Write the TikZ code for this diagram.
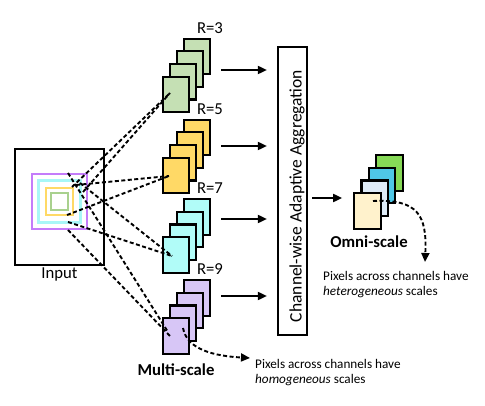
\documentclass[tikz,border=0pt]{standalone}
\usepackage{fontspec}
\setmainfont{Carlito}
\usepackage{tikz}
\usetikzlibrary{arrows.meta,positioning}
\definecolor{grn}{HTML}{C5E0B4}
\definecolor{ylw}{HTML}{FFD966}
\definecolor{cyn}{HTML}{B1FCF8}
\definecolor{prp}{HTML}{D7C6F6}
\definecolor{sqprp}{HTML}{C47CFA}
\definecolor{sqcyn}{HTML}{A8F7F7}
\definecolor{sqylw}{HTML}{FFD966}
\definecolor{sqgrn}{HTML}{A9D18E}
\definecolor{ocrm}{HTML}{FFF2CC}
\definecolor{oblu}{HTML}{DEEBF7}
\definecolor{ocyn}{HTML}{4FC7E7}
\definecolor{ogrn}{HTML}{86D957}

\begin{document}
\begin{tikzpicture}[x=1pt,y=-1pt,
	panel/.style={draw,line width=2.2pt,minimum width=26.5pt,minimum height=35.5pt,inner sep=0pt},
	arr/.style={line width=1.8pt,-{Triangle[length=9pt,width=8pt]}},
	dsh/.style={line width=1.9pt,dash pattern=on 4pt off 2.5pt},
	txt/.style={inner sep=0pt,font=\fontsize{16.7}{20}\selectfont},
	bld/.style={inner sep=0pt,font=\fontsize{16.7}{20}\selectfont\bfseries},
	note/.style={inner sep=0pt,align=left,font=\fontsize{13.2}{15.5}\selectfont}]
	\useasboundingbox (0,0) rectangle (485,406);

	\node[draw,line width=2.2pt,minimum width=89pt,minimum height=116pt] (inp) at (59.5,207) {};
	\node[txt,below=1.5pt of inp] (inplab) {Input};
	\foreach \s/\c in {27.5/sqprp,21/sqcyn,13.5/sqylw,8.5/sqgrn} \draw[\c,line width=2.3pt] (59.5-\s,201.5-\s) rectangle (59.5+\s,201.5+\s);

	\foreach \s/\c/\y/\rr in {g/grn/94.5/3,y/ylw/175.5/5,c/cyn/255/7,p/prp/336/9} {
		\foreach \k in {3,2,1,0} \node[panel,fill=\c] (\s\k) at (176+7*\k,\y-12.7*\k) {};
		\node[txt,anchor=base] (r\s) at ([xshift=13pt,yshift=4.5pt]\s3.north) {R=\rr};
	}

	\foreach \n/\a/\b in {ig1/72/187,ig2/83/192,iy1/76/185,iy2/67/215,ic1/80/183,ic2/68/222,ip1/68/173,ip2/68/230} \coordinate (\n) at (\a,\b);
	\foreach \n/\a/\b in {tg/170/93,ty/169/176,tc/172/256,tp1/168/332,tp2/170/336} \coordinate (\n) at (\a,\b);
	\foreach \a/\b in {ig1/tg,ig2/tg,iy1/ty,iy2/ty,ic1/tc,ic2/tc,ip1/tp1,ip2/tp2} \draw[dsh] (\a) -- (\b);

	\node[draw,line width=2.2pt,minimum width=29pt,minimum height=288pt] (agg) at (292.5,191) {};
	\node[rotate=90,inner sep=0pt,font=\fontsize{17.5}{20}\selectfont] (aggtxt) at (297,196) {Channel-wise Adaptive Aggregation};
	\foreach \s/\y in {g/70,y/146,c/219,p/296} \draw[arr] ([xshift=10pt]\s3.east |- 0,\y) -- ([xshift=-10pt]agg.west |- 0,\y);

	\foreach \k/\c in {3/ogrn,2/ocyn,1/oblu,0/ocrm} \node[panel,fill=\c] (o\k) at (367.5+7.3*\k,211-12.7*\k) {};
	\draw[arr] ([xshift=4pt]agg.east |- 0,198) -- ([xshift=-11pt]o0.west |- 0,198);
	\node[bld,anchor=base] (omni) at (369,248) {Omni-scale};
	\node[bld,anchor=base] (multi) at (176,375) {Multi-scale};

	\coordinate (os) at (373,201);
	\coordinate (oe) at (425,262);
	\coordinate (ms) at (183,328);
	\coordinate (me) at (250,358);
	\draw[dsh,-{Triangle[length=9pt,width=8pt]}] (os) .. controls (418,199) and (427,215) .. (oe);
	\draw[dsh,-{Triangle[length=9pt,width=8pt]}] (ms) .. controls (187,350) and (215,356) .. (me);
	\node[note,anchor=north west] (onote) at (323,271) {Pixels across channels have\\\textit{heterogeneous} scales};
	\node[note,anchor=north west] (mnote) at (255,359) {Pixels across channels have\\\textit{homogeneous} scales};
\end{tikzpicture}
\end{document}
